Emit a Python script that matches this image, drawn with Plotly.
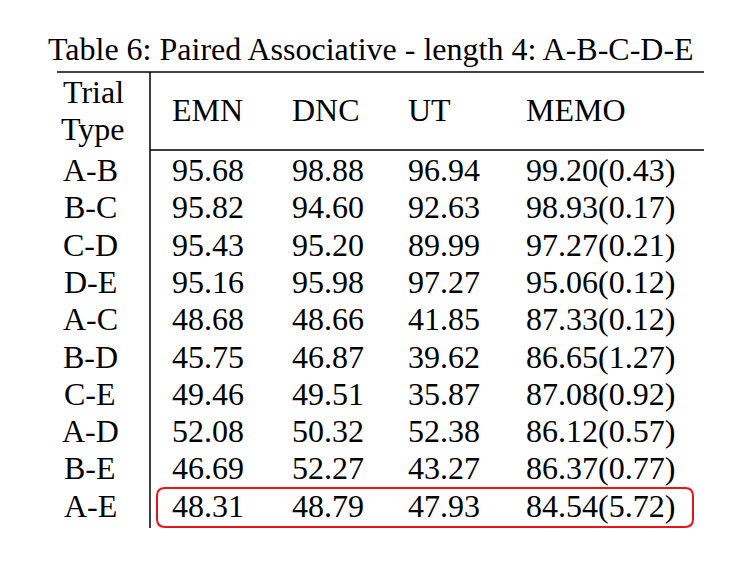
import plotly.graph_objects as go

title = "Table 6: Paired Associative - length 4: A-B-C-D-E"
columns = ["EMN", "DNC", "UT", "MEMO"]
trial_types = ["A-B", "B-C", "C-D", "D-E", "A-C", "B-D", "C-E", "A-D", "B-E", "A-E"]
emn = ["95.68", "95.82", "95.43", "95.16", "48.68", "45.75", "49.46", "52.08", "46.69", "48.31"]
dnc = ["98.88", "94.60", "95.20", "95.98", "48.66", "46.87", "49.51", "50.32", "52.27", "48.79"]
ut = ["96.94", "92.63", "89.99", "97.27", "41.85", "39.62", "35.87", "52.38", "43.27", "47.93"]
memo = ["99.20(0.43)", "98.93(0.17)", "97.27(0.21)", "95.06(0.12)", "87.33(0.12)",
        "86.65(1.27)", "87.08(0.92)", "86.12(0.57)", "86.37(0.77)", "84.54(5.72)"]

W, H = 748, 562
O = 8  # page offset correction
fig = go.Figure()
ann = []
def t(x, y, s, xa="left", size=32):
    ann.append(dict(x=x - O, y=y - O, text=s, showarrow=False, xanchor=xa, yanchor="middle",
                    font=dict(family="Liberation Serif", size=size, color="black")))

t(371, 49, title, "center", 32)
t(93, 92, "Trial", "center"); t(93, 129, "Type", "center")
colx = [170, 290, 406, 524]
for c, x in zip(columns, colx):
    t(x, 110, c)
y0, dy = 170, 37.3
for i, tt in enumerate(trial_types):
    y = y0 + i * dy
    t(90, y, tt, "center")
    for x, arr in zip(colx, [emn, dnc, ut, memo]):
        t(x, y, arr[i])

def L(x0, y0_, x1, y1):
    return dict(type="line", x0=x0 - O, x1=x1 - O, y0=y0_ - O, y1=y1 - O, line=dict(color="black", width=1.5))
x0, x1, ya, yb, r = 157 - O, 693 - O, 488 - O, 527 - O, 8
shapes = [
    L(57, 72, 704, 72), L(150, 150, 704, 150), L(150, 72, 150, 528),
    dict(type="path",
         path=f"M {x0+r} {ya} L {x1-r} {ya} Q {x1} {ya} {x1} {ya+r} L {x1} {yb-r} Q {x1} {yb} {x1-r} {yb} "
              f"L {x0+r} {yb} Q {x0} {yb} {x0} {yb-r} L {x0} {ya+r} Q {x0} {ya} {x0+r} {ya} Z",
         line=dict(color="#e8141c", width=2)),
]
fig.update_layout(width=W, height=H, margin=dict(l=0, r=0, t=0, b=0),
                  paper_bgcolor="white", plot_bgcolor="white",
                  xaxis=dict(range=[0, W], visible=False, fixedrange=True),
                  yaxis=dict(range=[H, 0], visible=False, fixedrange=True),
                  annotations=ann, shapes=shapes, showlegend=False)
fig.write_html("out.html")
